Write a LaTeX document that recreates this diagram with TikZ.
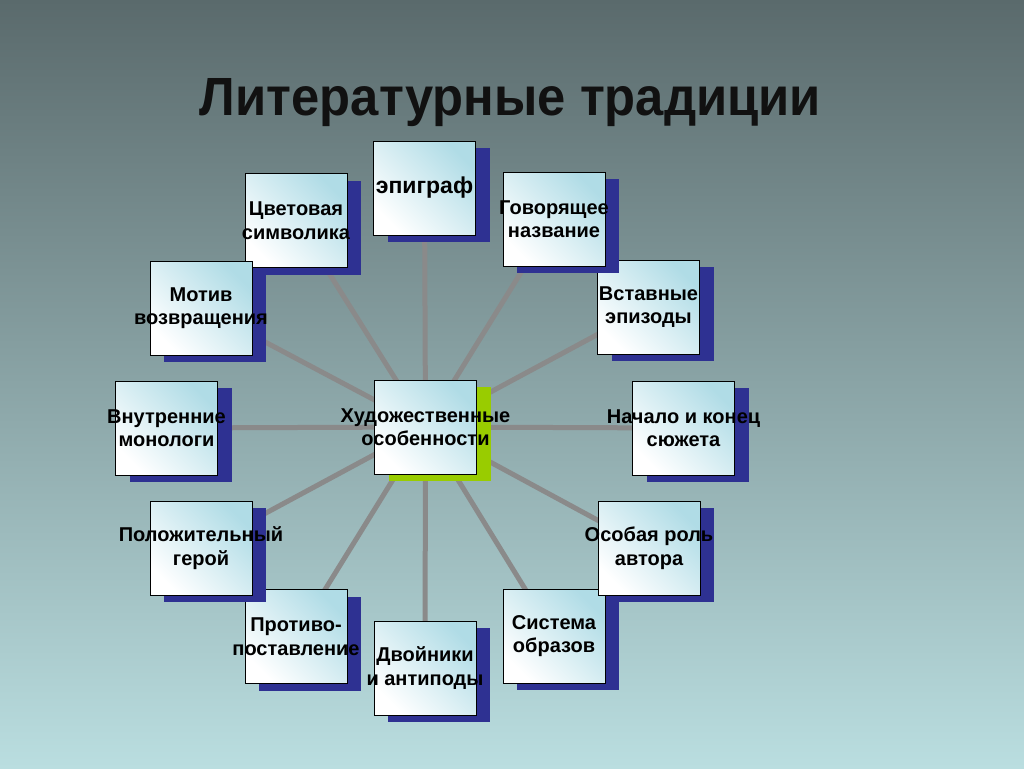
\documentclass[tikz,border=0pt]{standalone}
\usepackage{fontspec}
\setmainfont{Liberation Sans}
\usetikzlibrary{shadows}
\pgfdeclarelayer{bgl}
\pgfsetlayers{bgl,main}
\definecolor{bgtop}{RGB}{90,106,108}
\definecolor{bgbot}{RGB}{186,222,224}
\definecolor{navy}{RGB}{46,49,146}
\definecolor{lgreen}{RGB}{153,204,0}
\definecolor{boxcyan}{RGB}{176,220,230}
\definecolor{linegrey}{RGB}{138,138,138}
\definecolor{titlecol}{RGB}{17,17,17}
\tikzset{
  basebox/.style={draw=black, line width=0.8pt, minimum width=102pt, minimum height=94pt,
    inner sep=0pt, top color=boxcyan, bottom color=white, shading angle=-45},
  box/.style={basebox, drop shadow={shadow xshift=14pt, shadow yshift=-7pt, fill=navy, opacity=1}},
  cbox/.style={basebox, drop shadow={shadow xshift=14pt, shadow yshift=-7pt, fill=lgreen, opacity=1}},
  lbl/.style={font=\bfseries\fontsize{20}{23.5}\selectfont, align=center, text=black, inner sep=0pt},
  conn/.style={draw=linegrey, line width=5pt}
}
\begin{document}
\begin{tikzpicture}[x=1pt,y=-1pt]
\useasboundingbox (0,0) rectangle (1024,768);
\begin{pgfonlayer}{bgl}
\shade[top color=bgtop, bottom color=bgbot] (0,0) rectangle (1024,768);
\end{pgfonlayer}

\node[anchor=base, text=titlecol, inner sep=0pt] (title) at (510.5,115.5)
  {\resizebox{621pt}{37pt}{\bfseries Литературные традиции}};

\node[cbox, label={[lbl]center:{Художественные\\особенности}}] (c) at (425.5,427) {};

\node[box, label={[lbl]center:{Вставные\\эпизоды}}] (vst) at (648.5,307) {};
\node[box, label={[lbl, font=\bfseries\fontsize{23}{26}\selectfont]center:{эпиграф}}] (epi) at (424.5,188) {};
\node[box, label={[lbl]center:{Говорящее\\название}}] (gov) at (554,219) {};
\node[box, label={[lbl]center:{Цветовая\\символика}}] (cvet) at (296,220.5) {};
\node[box, label={[lbl]center:{Мотив\\возвращения}}] (motiv) at (201,308) {};
\node[box, label={[lbl]center:{Внутренние\\монологи}}] (vnutr) at (166.5,428) {};
\node[box, label={[lbl]center:{Начало и конец\\сюжета}}] (nach) at (683.5,428) {};
\node[box, label={[lbl]center:{Противо-\\поставление}}] (prot) at (296,636.5) {};
\node[box, label={[lbl]center:{Положительный\\герой}}] (pol) at (201,548) {};
\node[box, label={[lbl]center:{Система\\образов}}] (sist) at (554,636) {};
\node[box, label={[lbl]center:{Особая роль\\автора}}] (osob) at (649,548) {};
\node[box, label={[lbl]center:{Двойники\\и антиподы}}] (dvoi) at (425,668) {};

\begin{pgfonlayer}{bgl}
\foreach \n in {epi,gov,vst,nach,osob,sist,dvoi,prot,pol,vnutr,motiv,cvet}
  \draw[conn] (c.center) -- (\n.center);
\end{pgfonlayer}
\end{tikzpicture}
\end{document}
